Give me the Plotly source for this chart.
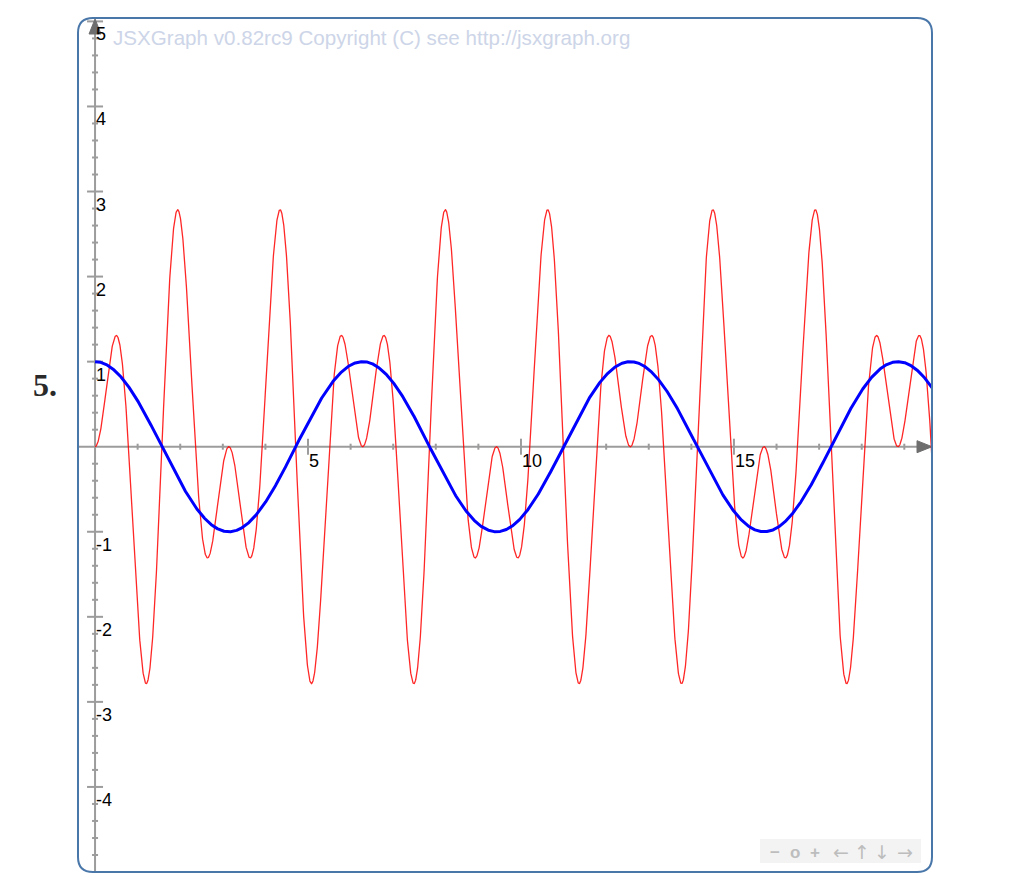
import numpy as np
import plotly.graph_objects as go

# ---- data (function parameters) ----
blue_amp = 1.0          # blue: blue_amp * cos(x)
red_amp = 3.0           # red: red_amp * sin(x) * sin(red_freq * x)
red_freq = 4.0
x_start = 0.0
x_range = [-0.4, 19.65]
y_range = [-5.0, 5.04]
x_major = [5, 10, 15]
x_minor = [1, 2, 3, 4, 6, 7, 8, 9, 11, 12, 13, 14, 16, 17, 18, 19]
y_labels = [5, 4, 3, 2, 1, -1, -2, -3, -4]
y_major = [-5, -4, -3, -2, -1, 1, 2, 3, 4, 5]
y_minor = [round(v, 1) for v in np.arange(-5.0, 5.01, 0.2) if abs(v - round(v)) > 1e-6]
nav_glyphs = ['\u2212', 'o', '+', '\u2190', '\u2191', '\u2193', '\u2192']

W, H = 1024, 884
L, T = 78, 18
PW, PH = 854, 854
R, B = W - L - PW, H - T - PH

ux = (x_range[1] - x_range[0]) / PW   # data units per pixel
uy = (y_range[1] - y_range[0]) / PH


def px(xp):
    return (xp - L) / PW


def py(yp):
    return (T + PH - yp) / PH


xs = np.linspace(x_start, x_range[1] + 0.2, 4000)
blue = blue_amp * np.cos(xs)
red = red_amp * np.sin(xs) * np.sin(red_freq * xs)

AX = '#9c9c9c'
fig = go.Figure()

# axes lines
fig.add_trace(go.Scatter(x=[x_range[0], x_range[1] - 10 * ux], y=[0, 0], mode='lines',
                         line=dict(color=AX, width=2), hoverinfo='skip'))
fig.add_trace(go.Scatter(x=[0, 0], y=[y_range[0], y_range[1] - 10 * uy], mode='lines',
                         line=dict(color=AX, width=2), hoverinfo='skip'))

# ticks
tx, ty = [], []
for v in x_minor:
    tx += [v, v, None]; ty += [-3 * uy, 3 * uy, None]
for v in x_major:
    tx += [v, v, None]; ty += [-8 * uy, 8 * uy, None]
for v in y_minor:
    tx += [-3 * ux, 3 * ux, None]; ty += [v, v, None]
for v in y_major:
    tx += [-8 * ux, 8 * ux, None]; ty += [v, v, None]
fig.add_trace(go.Scatter(x=tx, y=ty, mode='lines', line=dict(color=AX, width=2), hoverinfo='skip'))

# arrowheads
ARC = '#6e6e6e'
fig.add_trace(go.Scatter(x=[x_range[1], x_range[1] - 15 * ux, x_range[1] - 15 * ux, x_range[1]],
                         y=[0, 6 * uy, -6 * uy, 0], mode='lines', fill='toself',
                         fillcolor=ARC, line=dict(color=ARC, width=1), hoverinfo='skip'))
fig.add_trace(go.Scatter(x=[0, 6 * ux, -6 * ux, 0],
                         y=[y_range[1] - 1 * uy, y_range[1] - 16 * uy, y_range[1] - 16 * uy, y_range[1] - 1 * uy],
                         mode='lines', fill='toself',
                         fillcolor=ARC, line=dict(color=ARC, width=1), hoverinfo='skip'))

# curves
fig.add_trace(go.Scatter(x=xs, y=red, mode='lines', line=dict(color='rgba(255,0,0,0.85)', width=1.3),
                         hoverinfo='skip'))
fig.add_trace(go.Scatter(x=xs, y=blue, mode='lines', line=dict(color='#0000ff', width=3),
                         hoverinfo='skip'))

ann = []
TF = dict(family='Liberation Sans, Arial, sans-serif', size=18, color='#000000')
for v in x_major:
    ann.append(dict(x=v, y=0, xref='x', yref='y', text=str(v), showarrow=False,
                    xanchor='left', yanchor='middle', xshift=-1, yshift=-14, font=TF))
for v in y_labels:
    ann.append(dict(x=0, y=v, xref='x', yref='y', text=str(v), showarrow=False,
                    xanchor='left', yanchor='middle', xshift=-1, yshift=-13, font=TF))

# copyright
ann.append(dict(x=px(111), y=py(37), xref='paper', yref='paper',
                text='JSXGraph v0.82rc9 Copyright (C) see http://jsxgraph.org', showarrow=False,
                xanchor='left', yanchor='middle',
                font=dict(family='Liberation Sans, Arial, sans-serif', size=20.6, color='#cdd5e8')))

# navigation bar
nav_x = [774.5, 795, 815, 840.5, 862, 881.5, 905]
for g, xc in zip(nav_glyphs, nav_x):
    is_arrow = g in '\u2190\u2191\u2193\u2192'
    ann.append(dict(x=px(xc), y=py(852), xref='paper', yref='paper', text=g, showarrow=False,
                    xanchor='center', yanchor='middle',
                    font=dict(family='DejaVu Sans, sans-serif' if is_arrow else 'Liberation Sans, Arial, sans-serif',
                              size=19 if is_arrow else 17, color='#bdbdbd',
                              weight='bold' if not is_arrow else 'normal')))

# exercise number
ann.append(dict(x=px(44.5), y=py(385), xref='paper', yref='paper',
                text='<b>5.</b>', showarrow=False, xanchor='center', yanchor='middle',
                font=dict(family='Liberation Serif, Times New Roman, serif', size=32, color='#2a2a2a')))

# rounded border
r = 15 / PW
p = (f"M {r},1 L {1-r},1 Q 1,1 1,{1-r} L 1,{r} Q 1,0 {1-r},0 L {r},0 Q 0,0 0,{r} "
     f"L 0,{1-r} Q 0,1 {r},1 Z")
shapes = [
    dict(type='rect', xref='paper', yref='paper', x0=px(760), x1=px(921), y0=py(863), y1=py(839),
         fillcolor='#f3f3f3', line=dict(width=0), layer='below'),
    dict(type='path', xref='paper', yref='paper', path=p,
         line=dict(color='#4a77aa', width=2), layer='above'),
]

fig.update_layout(
    width=W, height=H, margin=dict(l=L, r=R, t=T, b=B, pad=0),
    paper_bgcolor='white', plot_bgcolor='white', showlegend=False,
    xaxis=dict(range=x_range, visible=False, fixedrange=True),
    yaxis=dict(range=y_range, visible=False, fixedrange=True),
    annotations=ann, shapes=shapes,
)

fig.write_html("out.html", post_script="document.body.style.margin='0';",
               config={'displayModeBar': False})
